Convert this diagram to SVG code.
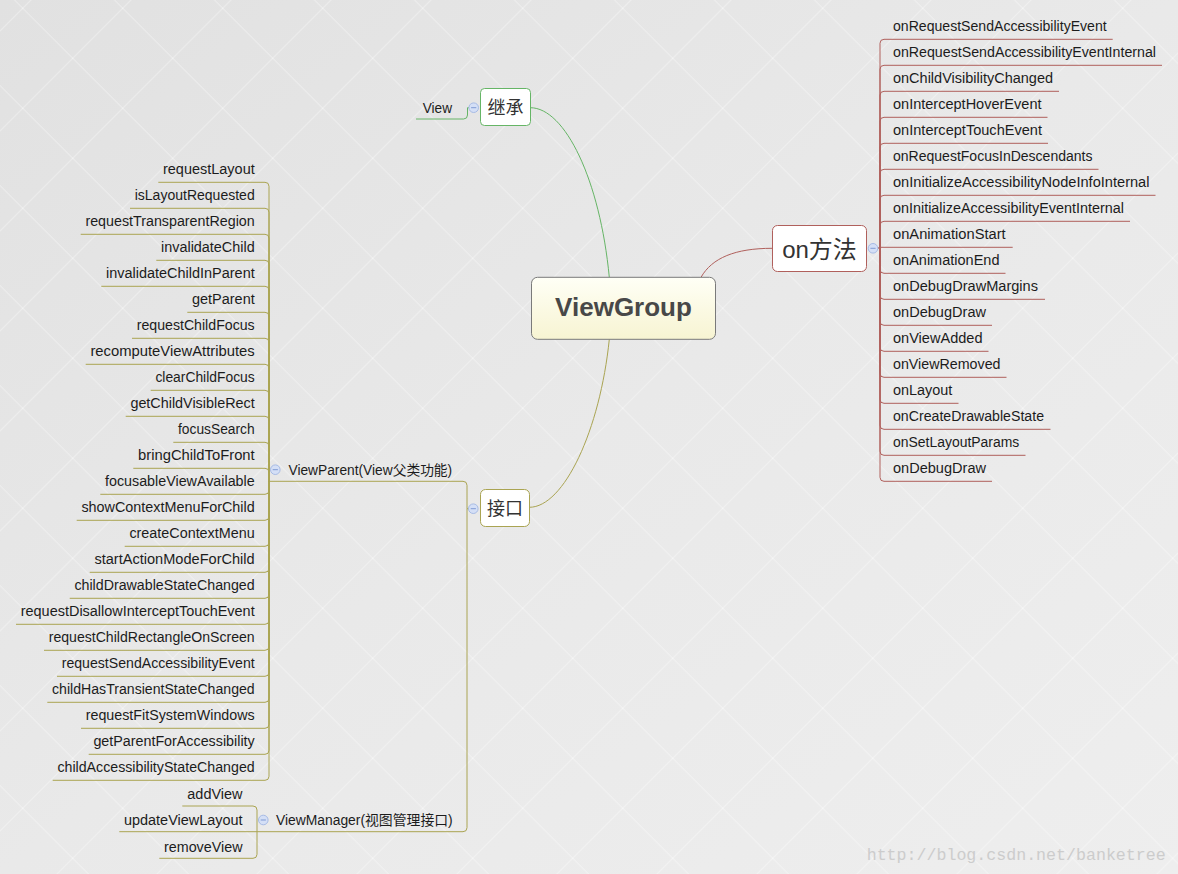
<svg xmlns="http://www.w3.org/2000/svg" width="1178" height="874" viewBox="0 0 1178 874">
<defs>
<linearGradient id="bg" x1="0" y1="0" x2="1" y2="1">
<stop offset="0" stop-color="#e1e1e1"/>
<stop offset="0.5" stop-color="#e9e9e9"/>
<stop offset="1" stop-color="#eeeeee"/>
</linearGradient>
<pattern id="dia" patternUnits="userSpaceOnUse" x="22.7" y="58.3" width="100" height="100">
<path d="M0,50 L50,0 L100,50 L50,100 Z" fill="none" stroke="#ffffff" stroke-opacity="0.5" stroke-width="1"/>
</pattern>
<linearGradient id="cg" x1="0" y1="0" x2="0" y2="1">
<stop offset="0" stop-color="#fffff6"/>
<stop offset="1" stop-color="#f7f4d2"/>
</linearGradient>
<g id="minus">
<circle r="4.8" fill="#d4dff6" stroke="#a7bbe5" stroke-width="1"/>
<line x1="-2.6" y1="0" x2="2.6" y2="0" stroke="#7f9ad3" stroke-width="1"/>
</g>
</defs>
<style>
.t{font-family:"Liberation Sans",Arial,"Noto Sans CJK SC",sans-serif;font-size:14px;fill:#1c1c1c}
.e{text-anchor:end}
.r{fill:none;stroke:#b0605c;stroke-width:1}
.o{fill:none;stroke:#aaa452;stroke-width:1}
.g{fill:none;stroke:#66b566;stroke-width:1}
.nt{font-family:"Liberation Sans",Arial,"Noto Sans CJK SC",sans-serif;fill:#333;text-anchor:middle}
</style>
<rect width="1178" height="874" fill="url(#bg)"/>
<rect width="1178" height="874" fill="url(#dia)"/>

<g id="connectors">
<path class="g" d="M530.3,107.7 C565,107.7 600,180 609.3,277.3"/>
<path class="r" d="M701,277.3 C712,258 735,248.3 772.3,248.3"/>
<path class="o" d="M609.3,339.3 C600,430 564,507.3 529.3,507.3"/>
<path class="g" d="M469,107.7 H467.5 V115 Q467.5,119 463.5,119 H416"/>
<path class="o" d="M469,508.7 H467 V485.3 Q467,481.3 463,481.3 H269"/>
<path class="o" d="M467,508.7 V827.7 Q467,831.7 463,831.7 H257"/>
<g class="r">
<path d="M878,248 H880 V43.3 Q880,39.3 884,39.3 H1112.7"/>
<path d="M880,248 V69.3 Q880,65.3 884,65.3 H1162"/>
<path d="M880,248 V95.3 Q880,91.3 884,91.3 H1059"/>
<path d="M880,248 V121.3 Q880,117.3 884,117.3 H1047.5"/>
<path d="M880,248 V147.3 Q880,143.3 884,143.3 H1048"/>
<path d="M880,248 V173.3 Q880,169.3 884,169.3 H1098.5"/>
<path d="M880,248 V199.3 Q880,195.3 884,195.3 H1155.5"/>
<path d="M880,248 V225.3 Q880,221.3 884,221.3 H1130"/>
<path d="M878,248 H880 Q880,247.3 881,247.3 H1012.7"/>
<path d="M880,248 V269.3 Q880,273.3 884,273.3 H1005.5"/>
<path d="M880,248 V295.3 Q880,299.3 884,299.3 H1045"/>
<path d="M880,248 V321.3 Q880,325.3 884,325.3 H992"/>
<path d="M880,248 V347.3 Q880,351.3 884,351.3 H988.5"/>
<path d="M880,248 V373.3 Q880,377.3 884,377.3 H1006.5"/>
<path d="M880,248 V399.3 Q880,403.3 884,403.3 H958.5"/>
<path d="M880,248 V425.3 Q880,429.3 884,429.3 H1050.5"/>
<path d="M880,248 V451.3 Q880,455.3 884,455.3 H1025.5"/>
<path d="M880,248 V477.3 Q880,481.3 884,481.3 H992"/>
</g>
<g class="o">
<path d="M269,481.3 V186.3 Q269,182.3 265,182.3 H158.3"/>
<path d="M269,481.3 V212.3 Q269,208.3 265,208.3 H130"/>
<path d="M269,481.3 V238.3 Q269,234.3 265,234.3 H80.7"/>
<path d="M269,481.3 V264.3 Q269,260.3 265,260.3 H156.3"/>
<path d="M269,481.3 V290.3 Q269,286.3 265,286.3 H101.3"/>
<path d="M269,481.3 V316.3 Q269,312.3 265,312.3 H187.3"/>
<path d="M269,481.3 V342.3 Q269,338.3 265,338.3 H132"/>
<path d="M269,481.3 V368.3 Q269,364.3 265,364.3 H85.7"/>
<path d="M269,481.3 V394.3 Q269,390.3 265,390.3 H150.7"/>
<path d="M269,481.3 V420.3 Q269,416.3 265,416.3 H125.7"/>
<path d="M269,481.3 V446.3 Q269,442.3 265,442.3 H173.3"/>
<path d="M269,481.3 V472.3 Q269,468.3 265,468.3 H133.3"/>
<path d="M269,481.3 V490.3 Q269,494.3 265,494.3 H100.3"/>
<path d="M269,481.3 V516.3 Q269,520.3 265,520.3 H76.7"/>
<path d="M269,481.3 V542.3 Q269,546.3 265,546.3 H124.7"/>
<path d="M269,481.3 V568.3 Q269,572.3 265,572.3 H89.7"/>
<path d="M269,481.3 V594.3 Q269,598.3 265,598.3 H69.7"/>
<path d="M269,481.3 V620.3 Q269,624.3 265,624.3 H16"/>
<path d="M269,481.3 V646.3 Q269,650.3 265,650.3 H44"/>
<path d="M269,481.3 V672.3 Q269,676.3 265,676.3 H57"/>
<path d="M269,481.3 V698.3 Q269,702.3 265,702.3 H47.3"/>
<path d="M269,481.3 V724.3 Q269,728.3 265,728.3 H81"/>
<path d="M269,481.3 V750.3 Q269,754.3 265,754.3 H88.7"/>
<path d="M269,481.3 V776.3 Q269,780.3 265,780.3 H52.7"/>
</g>
<g class="o">
<path d="M257,831.7 V810 Q257,806 253,806 H182.3"/>
<path d="M257,831.7 H119.3"/>
<path d="M257,831.7 V854.3 Q257,858.3 253,858.3 H159.3"/>
</g>
</g>

<g id="node-viewgroup">
<rect x="531.5" y="277.3" width="184" height="62" rx="6" fill="url(#cg)" stroke="#7a7a7a" stroke-width="1"/>
<text class="nt" x="623.5" y="316" style="font-size:26px;font-weight:bold;fill:#484848">ViewGroup</text>
</g>

<g id="node-jicheng">
<rect x="480.5" y="88.5" width="50" height="37" rx="4" fill="#ffffff" stroke="#66b566" stroke-width="1"/>
<text class="nt" x="505.5" y="114" style="font-size:18px">继承</text>
<use href="#minus" x="473.7" y="107.7"/>
</g>

<g id="node-view">
<text class="t" x="422.7" y="112.7" textLength="29.3" lengthAdjust="spacingAndGlyphs">View</text>
</g>

<g id="node-on">
<rect x="772.5" y="225.5" width="94" height="46" rx="5" fill="#ffffff" stroke="#b0605c" stroke-width="1"/>
<text class="nt" x="819.5" y="257.5" style="font-size:24px">on方法</text>
<use href="#minus" x="873" y="248.3"/>
</g>

<g id="node-jiekou">
<rect x="480.5" y="489.5" width="49" height="37" rx="5" fill="#ffffff" stroke="#aaa452" stroke-width="1"/>
<text class="nt" x="505" y="515" style="font-size:18px">接口</text>
<use href="#minus" x="473.3" y="508.7"/>
</g>

<g id="node-viewparent">
<text class="t" x="288.5" y="475" textLength="163.7" lengthAdjust="spacingAndGlyphs">ViewParent(View父类功能)</text>
<use href="#minus" x="275.3" y="469.7"/>
</g>

<g id="node-viewmanager">
<text class="t" x="276" y="825" textLength="176.7" lengthAdjust="spacingAndGlyphs">ViewManager(视图管理接口)</text>
<use href="#minus" x="263.3" y="820"/>
</g>

<g id="on-items">
<text class="t" x="893" y="30.8" textLength="213.7" lengthAdjust="spacingAndGlyphs">onRequestSendAccessibilityEvent</text>
<text class="t" x="893" y="56.8" textLength="263" lengthAdjust="spacingAndGlyphs">onRequestSendAccessibilityEventInternal</text>
<text class="t" x="893" y="82.8" textLength="160" lengthAdjust="spacingAndGlyphs">onChildVisibilityChanged</text>
<text class="t" x="893" y="108.8" textLength="148.5" lengthAdjust="spacingAndGlyphs">onInterceptHoverEvent</text>
<text class="t" x="893" y="134.8" textLength="149" lengthAdjust="spacingAndGlyphs">onInterceptTouchEvent</text>
<text class="t" x="893" y="160.8" textLength="199.5" lengthAdjust="spacingAndGlyphs">onRequestFocusInDescendants</text>
<text class="t" x="893" y="186.8" textLength="256.5" lengthAdjust="spacingAndGlyphs">onInitializeAccessibilityNodeInfoInternal</text>
<text class="t" x="893" y="212.8" textLength="231" lengthAdjust="spacingAndGlyphs">onInitializeAccessibilityEventInternal</text>
<text class="t" x="893" y="238.8" textLength="112.7" lengthAdjust="spacingAndGlyphs">onAnimationStart</text>
<text class="t" x="893" y="264.8" textLength="106.5" lengthAdjust="spacingAndGlyphs">onAnimationEnd</text>
<text class="t" x="893" y="290.8" textLength="145" lengthAdjust="spacingAndGlyphs">onDebugDrawMargins</text>
<text class="t" x="893" y="316.8" textLength="93" lengthAdjust="spacingAndGlyphs">onDebugDraw</text>
<text class="t" x="893" y="342.8" textLength="89.5" lengthAdjust="spacingAndGlyphs">onViewAdded</text>
<text class="t" x="893" y="368.8" textLength="107.5" lengthAdjust="spacingAndGlyphs">onViewRemoved</text>
<text class="t" x="893" y="394.8" textLength="59.3" lengthAdjust="spacingAndGlyphs">onLayout</text>
<text class="t" x="893" y="420.8" textLength="151" lengthAdjust="spacingAndGlyphs">onCreateDrawableState</text>
<text class="t" x="893" y="446.8" textLength="126.3" lengthAdjust="spacingAndGlyphs">onSetLayoutParams</text>
<text class="t" x="893" y="472.8" textLength="93" lengthAdjust="spacingAndGlyphs">onDebugDraw</text>
</g>

<g id="viewparent-items">
<text class="t e" x="254.7" y="174" textLength="91.7" lengthAdjust="spacingAndGlyphs">requestLayout</text>
<text class="t e" x="254.7" y="200" textLength="120" lengthAdjust="spacingAndGlyphs">isLayoutRequested</text>
<text class="t e" x="254.7" y="226" textLength="169.3" lengthAdjust="spacingAndGlyphs">requestTransparentRegion</text>
<text class="t e" x="254.7" y="252" textLength="93.7" lengthAdjust="spacingAndGlyphs">invalidateChild</text>
<text class="t e" x="254.7" y="278" textLength="148.7" lengthAdjust="spacingAndGlyphs">invalidateChildInParent</text>
<text class="t e" x="254.7" y="304" textLength="62.7" lengthAdjust="spacingAndGlyphs">getParent</text>
<text class="t e" x="254.7" y="330" textLength="118" lengthAdjust="spacingAndGlyphs">requestChildFocus</text>
<text class="t e" x="254.7" y="356" textLength="164.3" lengthAdjust="spacingAndGlyphs">recomputeViewAttributes</text>
<text class="t e" x="254.7" y="382" textLength="99.3" lengthAdjust="spacingAndGlyphs">clearChildFocus</text>
<text class="t e" x="254.7" y="408" textLength="124.3" lengthAdjust="spacingAndGlyphs">getChildVisibleRect</text>
<text class="t e" x="254.7" y="434" textLength="76.7" lengthAdjust="spacingAndGlyphs">focusSearch</text>
<text class="t e" x="254.7" y="460" textLength="116.7" lengthAdjust="spacingAndGlyphs">bringChildToFront</text>
<text class="t e" x="254.7" y="486" textLength="149.7" lengthAdjust="spacingAndGlyphs">focusableViewAvailable</text>
<text class="t e" x="254.7" y="512" textLength="173.3" lengthAdjust="spacingAndGlyphs">showContextMenuForChild</text>
<text class="t e" x="254.7" y="538" textLength="125.3" lengthAdjust="spacingAndGlyphs">createContextMenu</text>
<text class="t e" x="254.7" y="564" textLength="160.3" lengthAdjust="spacingAndGlyphs">startActionModeForChild</text>
<text class="t e" x="254.7" y="590" textLength="180.3" lengthAdjust="spacingAndGlyphs">childDrawableStateChanged</text>
<text class="t e" x="254.7" y="616" textLength="234" lengthAdjust="spacingAndGlyphs">requestDisallowInterceptTouchEvent</text>
<text class="t e" x="254.7" y="642" textLength="206" lengthAdjust="spacingAndGlyphs">requestChildRectangleOnScreen</text>
<text class="t e" x="254.7" y="668" textLength="193" lengthAdjust="spacingAndGlyphs">requestSendAccessibilityEvent</text>
<text class="t e" x="254.7" y="694" textLength="202.7" lengthAdjust="spacingAndGlyphs">childHasTransientStateChanged</text>
<text class="t e" x="254.7" y="720" textLength="169" lengthAdjust="spacingAndGlyphs">requestFitSystemWindows</text>
<text class="t e" x="254.7" y="746" textLength="161.3" lengthAdjust="spacingAndGlyphs">getParentForAccessibility</text>
<text class="t e" x="254.7" y="772" textLength="197.3" lengthAdjust="spacingAndGlyphs">childAccessibilityStateChanged</text>
</g>

<g id="viewmanager-items">
<text class="t e" x="242.5" y="799" textLength="55.2" lengthAdjust="spacingAndGlyphs">addView</text>
<text class="t e" x="242.5" y="824.5" textLength="118.5" lengthAdjust="spacingAndGlyphs">updateViewLayout</text>
<text class="t e" x="242.5" y="851.5" textLength="78.5" lengthAdjust="spacingAndGlyphs">removeView</text>
</g>

<text x="866.7" y="860" textLength="299" lengthAdjust="spacingAndGlyphs" style="font-family:'Liberation Mono','Courier New',monospace;font-size:16.5px;fill:#cccccc">http://blog.csdn.net/banketree</text>
</svg>
